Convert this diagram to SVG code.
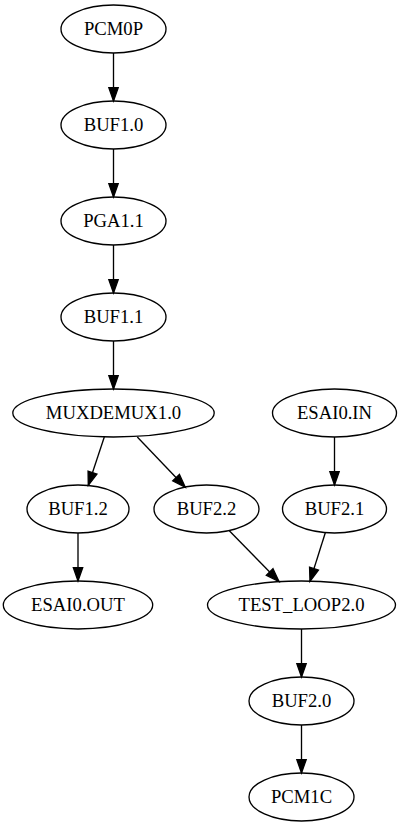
<svg xmlns="http://www.w3.org/2000/svg" width="402" height="827" viewBox="0 0 402 827">
<defs>
<style>
.n ellipse{fill:none;stroke:#000;stroke-width:1.33}
.n text{font-size:18.67px;text-anchor:middle;fill:#000}
#edges line{stroke:#000;stroke-width:1.33;marker-end:url(#ah)}
</style>
<marker id="ah" markerUnits="userSpaceOnUse" markerWidth="14" markerHeight="10" refX="13.33" refY="4.67" orient="auto" overflow="visible">
<polygon points="0,0 13.33,4.67 0,9.33" fill="#000" stroke="#000" stroke-width="1.33"/>
</marker>
</defs>
<rect width="402" height="827" fill="#fff"/>
<g id="edges">
<line x1="113.5" y1="53" x2="113.5" y2="101"/>
<line x1="113.5" y1="149" x2="113.5" y2="197"/>
<line x1="113.5" y1="245" x2="113.5" y2="293"/>
<line x1="113.5" y1="341" x2="113.5" y2="389"/>
<line x1="104.3" y1="437" x2="88.3" y2="485.3"/>
<line x1="137.3" y1="437" x2="185.3" y2="487.3"/>
<line x1="334.5" y1="437" x2="334.5" y2="485"/>
<line x1="78" y1="533" x2="78" y2="581"/>
<line x1="229.3" y1="530.7" x2="279" y2="581.5"/>
<line x1="325.3" y1="532.7" x2="310" y2="581.3"/>
<line x1="301.5" y1="629" x2="301.5" y2="677"/>
<line x1="301.5" y1="725" x2="301.5" y2="773"/>
</g>
<g font-family="'Liberation Serif', 'Times New Roman', Times, serif">
<g id="PCM0P" class="n"><ellipse cx="113.5" cy="29" rx="52.5" ry="24"/><text x="113.5" y="34.5">PCM0P</text></g>
<g id="BUF1.0" class="n"><ellipse cx="113.5" cy="125" rx="52.5" ry="24"/><text x="113.5" y="130.5">BUF1.0</text></g>
<g id="PGA1.1" class="n"><ellipse cx="113.5" cy="221" rx="52.5" ry="24"/><text x="113.5" y="226.5">PGA1.1</text></g>
<g id="BUF1.1" class="n"><ellipse cx="113.5" cy="317" rx="52.5" ry="24"/><text x="113.5" y="322.5">BUF1.1</text></g>
<g id="MUXDEMUX1.0" class="n"><ellipse cx="113.5" cy="413" rx="100.7" ry="24"/><text x="113.5" y="418.5">MUXDEMUX1.0</text></g>
<g id="ESAI0.IN" class="n"><ellipse cx="334.5" cy="413" rx="62" ry="24"/><text x="334.5" y="418.5">ESAI0.IN</text></g>
<g id="BUF1.2" class="n"><ellipse cx="78" cy="509" rx="51" ry="24"/><text x="78" y="514.5">BUF1.2</text></g>
<g id="BUF2.2" class="n"><ellipse cx="206.5" cy="509" rx="52.5" ry="24"/><text x="206.5" y="514.5">BUF2.2</text></g>
<g id="BUF2.1" class="n"><ellipse cx="334.5" cy="509" rx="52" ry="24"/><text x="334.5" y="514.5">BUF2.1</text></g>
<g id="ESAI0.OUT" class="n"><ellipse cx="78" cy="605" rx="74.7" ry="24"/><text x="78" y="610.5">ESAI0.OUT</text></g>
<g id="TEST_LOOP2.0" class="n"><ellipse cx="301.5" cy="605" rx="94" ry="24"/><text x="301.5" y="610.5">TEST_LOOP2.0</text></g>
<g id="BUF2.0" class="n"><ellipse cx="301.5" cy="701" rx="52.5" ry="24"/><text x="301.5" y="706.5">BUF2.0</text></g>
<g id="PCM1C" class="n"><ellipse cx="301.5" cy="797" rx="52.5" ry="24"/><text x="301.5" y="802.5">PCM1C</text></g>
</g>
</svg>
